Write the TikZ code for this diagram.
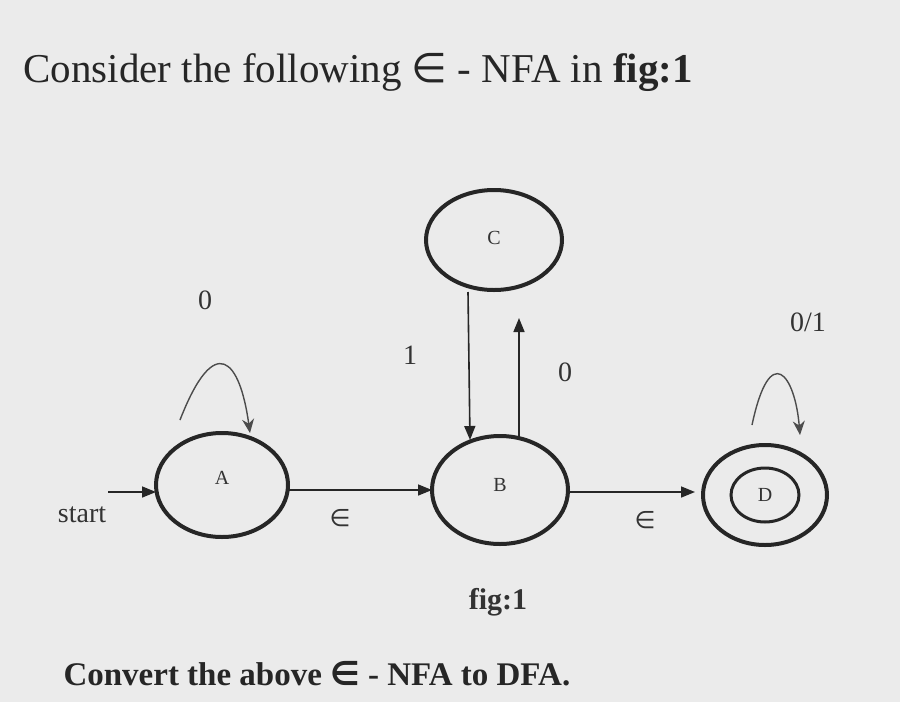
\documentclass[tikz,border=0pt]{standalone}
\usepackage{fontspec}
\setmainfont{Liberation Serif}
\newfontfamily\symfont{DejaVu Sans}
\newcommand{\elem}{{\symfont ∈}}
\usetikzlibrary{arrows.meta}
\begin{document}
\begin{tikzpicture}[x=1pt,y=-1pt,
  st/.style={draw=black!85,line width=4pt},
  lbl/.style={font=\fontsize{28}{30}\selectfont,text=black!80},
  edge/.style={draw=black!85,line width=1.6pt,-{Triangle[length=14pt,width=11pt]}},
  loopl/.style={draw=black!70,line width=1.4pt,-{Stealth[length=14pt,width=12pt]}}]
\fill[black!8] (0,0) rectangle (900,702);
\useasboundingbox (0,0) rectangle (900,702);
\node[anchor=base west,font=\fontsize{41}{46}\selectfont,text=black!85] (title) at (20,82) {Consider the following \elem{} - NFA in \textbf{fig:1}};
\draw[st] (494,240) ellipse (68 and 50);
\node[lbl,font=\fontsize{20}{22}\selectfont] (C) at (494,238) {C};
\draw[st] (222,485) ellipse (66 and 52);
\node[lbl,font=\fontsize{20}{22}\selectfont] (A) at (222,478) {A};
\draw[st] (500,490) ellipse (68 and 54);
\node[lbl,font=\fontsize{20}{22}\selectfont] (B) at (500,485) {B};
\draw[st] (765,495) ellipse (62 and 50);
\draw[draw=black!85,line width=3pt] (765,495) ellipse (34 and 27);
\node[lbl,font=\fontsize{20}{22}\selectfont] (D) at (765,495) {D};
\node[lbl,anchor=base] (start) at (82,522) {start};
\coordinate (s0) at (108,492);
\coordinate (s1) at (156,492);
\draw[edge] (s0) -- (s1);
\coordinate (a1) at (180,420); \coordinate (a2) at (250,433);
\draw[loopl] (a1) .. controls (215,330) and (240,360) .. (a2);
\node[lbl] (l0a) at (205,300) {0};
\coordinate (c1) at (468,292); \coordinate (b1) at (470,440);
\draw[edge] (c1) -- (b1);
\node[lbl] (l1) at (410,355) {1};
\coordinate (b2) at (519,440); \coordinate (c2) at (519,318);
\draw[edge] (b2) -- (c2);
\node[lbl] (l0b) at (565,372) {0};
\coordinate (ab0) at (288,490); \coordinate (ab1) at (432,490);
\draw[edge] (ab0) -- (ab1);
\node[lbl,font=\fontsize{24}{26}\selectfont] (e1) at (340,518) {\elem};
\coordinate (bd0) at (568,492); \coordinate (bd1) at (695,492);
\draw[edge] (bd0) -- (bd1);
\node[lbl,font=\fontsize{24}{26}\selectfont] (e2) at (645,520) {\elem};
\coordinate (d1) at (752,425); \coordinate (d2) at (800,435);
\draw[loopl] (d1) .. controls (770,340) and (795,375) .. (d2);
\node[lbl] (l01) at (808,322) {0/1};
\node[lbl,font=\bfseries\fontsize{30}{32}\selectfont] (fig) at (498,602) {fig:1};
\node[anchor=base west,font=\bfseries\fontsize{33}{36}\selectfont,text=black!85] (conv) at (60,685) {Convert the above \elem{} - NFA to DFA.};
\end{tikzpicture}
\end{document}
